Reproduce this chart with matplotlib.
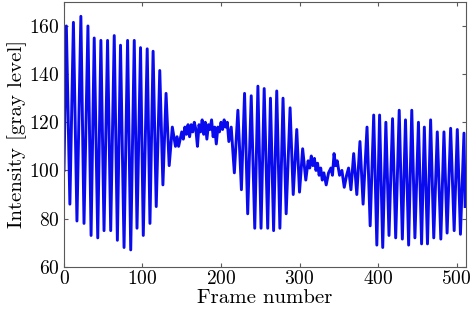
import numpy as np
import matplotlib
matplotlib.use('Agg')
import matplotlib.pyplot as plt

#
# intensity values (peaks / troughs and noisy plateaus)
#
burst1_frames = [0, 3, 7.5, 12, 16.5, 21.5, 25.5, 30.5, 34.5, 38.5,
                 43, 47, 51, 55.5, 59.5, 64, 68, 72, 76.5, 81,
                 85, 89.5, 93, 97.5, 101, 106, 109.5, 113.5, 117.5, 122,
                 126, 130, 134, 138, 142]
burst1_vals = [100, 160, 86, 161.5, 79, 164, 78, 160, 73, 155,
               72, 154, 75, 154, 75, 156, 71, 152, 68, 154,
               67, 154, 76, 151, 73, 150.5, 78, 149.5, 85, 141.5,
               94, 132, 102, 118, 110]

plateau1_frames = [144, 146, 148, 150, 152, 154, 156, 158, 160, 162,
                   164, 166, 168, 170, 172, 174, 176, 178, 180, 182,
                   184, 186, 188, 190, 192, 194, 196, 198, 200, 202,
                   204, 206, 208, 210, 213]
plateau1_vals = [114, 110, 113, 116, 113, 118, 115, 119, 114, 119,
                 116, 120, 117, 110, 119, 116, 121, 115, 120, 113,
                 119, 117, 121, 114, 118, 111, 118, 116, 120, 117,
                 121, 118, 120, 112, 118]

burst2_frames = [217, 221.5, 226, 230, 234, 238.5, 243, 247, 251, 255,
                 259.5, 263, 267, 271, 275, 279, 283, 288, 292, 296.5,
                 300, 304, 308]
burst2_vals = [99, 125, 92, 132, 82, 131, 76, 135, 76, 134,
               76, 130, 75, 133, 76, 130, 82, 126, 90, 117,
               91, 109, 96]

plateau2_frames = [311, 313, 315, 317, 319, 321, 323, 325, 327, 329,
                   331, 334, 337, 340, 342, 344, 346, 348, 351, 354,
                   357, 360, 362.5, 365.5]
plateau2_vals = [104, 101, 106, 102, 105, 100, 103, 98, 101, 96,
                 99, 94, 99, 101, 98, 107, 102, 104, 98, 100,
                 93, 98, 101, 92]

burst3_frames = [369, 373, 377, 381, 386, 390, 394.5, 398.5, 402, 406,
                 410, 414, 418.5, 422.5, 427, 431, 435, 439, 443, 447,
                 451.5, 455.5, 459, 463, 467, 471, 475.5, 480, 484, 488,
                 492.5, 497, 501, 505, 509.5, 511]
burst3_vals = [107, 90, 112, 86, 118, 77, 123, 69, 123, 68,
               120, 73, 121.5, 72, 125, 71.5, 121, 69, 125, 72,
               120, 69.5, 118, 69.5, 121, 72, 116, 71.5, 116, 74,
               117.5, 75, 117, 73.5, 115.5, 85]

xticks = [0, 100, 200, 300, 400, 500]
yticks = [60, 80, 100, 120, 140, 160]


def plot_intensity(pname):
    #
    plt.rcParams['font.family'] = 'cmr10'
    plt.rcParams['axes.formatter.use_mathtext'] = True
    #
    frames = np.concatenate([burst1_frames, plateau1_frames, burst2_frames,
                             plateau2_frames, burst3_frames])
    vals = np.concatenate([burst1_vals, plateau1_vals, burst2_vals,
                           plateau2_vals, burst3_vals])
    #
    fig, ax = plt.subplots(figsize=(4.74, 3.12), dpi=100)
    fig.subplots_adjust(left=0.135, right=0.983, bottom=0.145, top=0.994)
    #
    ax.plot(frames, vals, color='#0a0aef', linewidth=2.1)
    #
    ax.set_xlim([0, 512])
    ax.set_ylim([60, 170])
    ax.set_xticks(xticks)
    ax.set_yticks(yticks)
    ax.set_xlabel('Frame number', fontsize=15, labelpad=1)
    ax.set_ylabel('Intensity [gray level]', fontsize=15, labelpad=2)
    ax.tick_params(direction='in', top=True, right=True, length=3,
                   labelsize=14, color='0.35', pad=2)
    ax.tick_params(axis='y', pad=3)
    for sp in ax.spines.values():
        sp.set_color('0.35')
        sp.set_linewidth(0.8)
    #
    plt.savefig(pname, dpi=100)
    plt.close()


def main():
    plot_intensity('out.png')


if __name__ == "__main__":
    main()
